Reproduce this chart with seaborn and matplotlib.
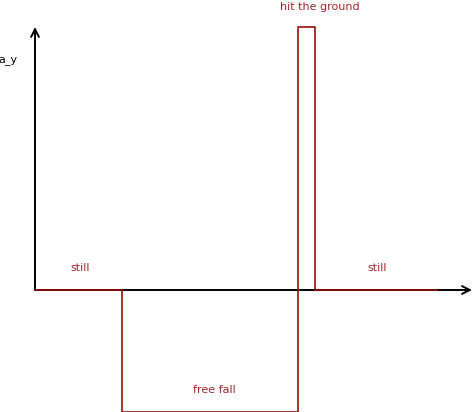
import matplotlib
matplotlib.use("Agg")
import matplotlib.pyplot as plt
import seaborn as sns
import pandas as pd

# Data: piecewise acceleration a_y over time
t_values = [0.0, 0.5, 0.5, 1.51, 1.51, 1.61, 1.61, 2.31]
a_values = [0.0, 0.0, -1.01, -1.01, 2.17, 2.17, 0.0, 0.0]
label_texts = ["still", "free fall", "hit the ground", "still"]
label_t = [0.26, 1.03, 1.635, 1.965]
label_a = [0.18, -0.83, 2.34, 0.18]
axis_label = "a_y"

sns.set_style("white")
plt.rcParams['font.family'] = ['DejaVu Sans']

fig = plt.figure(figsize=(4.74, 4.12), dpi=100)
ax = fig.add_axes([0, 0, 1, 1])

px_per_t = 174.0
px_per_a = 121.0
ax.set_xlim(-35 / px_per_t, (474 - 35) / px_per_t)
ax.set_ylim(-(412 - 290) / px_per_a, 290 / px_per_a)
ax.axis('off')

line_color = "#a00a0a"
text_color = "#a3282c"

# axes arrows
ax.annotate("", xy=((472 - 35) / px_per_t, 0), xytext=(0, 0),
            arrowprops=dict(arrowstyle="->", color="black", lw=1.4,
                            shrinkA=0, shrinkB=0, mutation_scale=14), zorder=1)
ax.annotate("", xy=(0, (290 - 27) / px_per_a), xytext=(0, 0),
            arrowprops=dict(arrowstyle="->", color="black", lw=1.4,
                            shrinkA=0, shrinkB=0, mutation_scale=14), zorder=1)

df = pd.DataFrame({"t": t_values, "a": a_values})
sns.lineplot(data=df, x="t", y="a", sort=False, estimator=None,
             color=line_color, linewidth=1.2, ax=ax, zorder=3)
ax.axis('off')

for txt, tx, ty in zip(label_texts, label_t, label_a):
    ax.text(tx, ty, txt, color=text_color, fontsize=8, ha="center", va="center")

ax.text(-27 / px_per_t, 1.90, axis_label, color="black", fontsize=8,
        ha="center", va="center")

fig.savefig("out.png", dpi=100)
